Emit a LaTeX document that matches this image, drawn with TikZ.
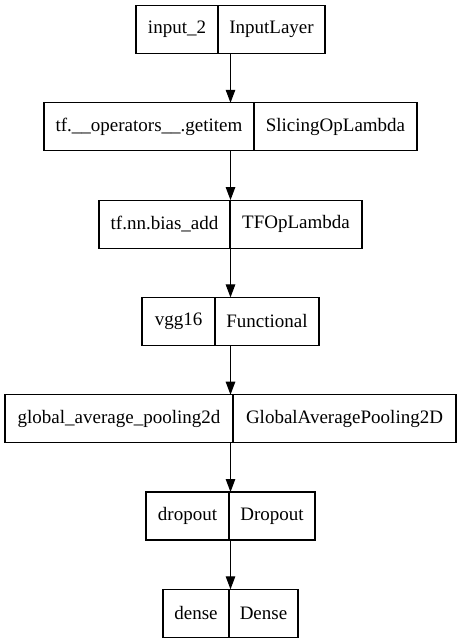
\documentclass[tikz,border=0pt]{standalone}
\usepackage{fontspec}
\setmainfont{Liberation Serif}
\usetikzlibrary{arrows.meta}
\begin{document}
\begin{tikzpicture}[x=1pt,y=-1pt]
\tikzstyle{every node}+=[inner sep=0pt, outer sep=0pt, font=\fontsize{19}{22}\selectfont]
\tikzstyle{field}=[draw=black, line width=1.1pt, minimum height=48pt]
\tikzstyle{edge}=[draw=black, line width=1.1pt, -{Triangle[length=13pt,width=9.5pt]}]
\useasboundingbox (0,0) rectangle (461,644);
\coordinate (mid) at (230.5,0);
\node [field, anchor=east, minimum width=82pt] (input) at (218,29.5) {input\_2};
\node [field, anchor=west, minimum width=107pt] (inputT) at (218,29.5) {InputLayer};
\node [field, anchor=east, minimum width=210pt] (getitem) at (254,126.8) {tf.\_\_operators\_\_.getitem};
\node [field, anchor=west, minimum width=163pt] (getitemT) at (254,126.8) {SlicingOpLambda};
\node [field, anchor=east, minimum width=131pt] (bias) at (230,224.1) {tf.nn.bias\_add};
\node [field, anchor=west, minimum width=132pt] (biasT) at (230,224.1) {TFOpLambda};
\node [field, anchor=east, minimum width=73pt] (vgg) at (215,321.4) {vgg16};
\node [field, anchor=west, minimum width=104pt] (vggT) at (215,321.4) {Functional};
\node [field, anchor=east, minimum width=228pt] (pool) at (233,418.7) {global\_average\_pooling2d};
\node [field, anchor=west, minimum width=223pt] (poolT) at (233,418.7) {GlobalAveragePooling2D};
\node [field, anchor=east, minimum width=83pt] (drop) at (229,516) {dropout};
\node [field, anchor=west, minimum width=86pt] (dropT) at (229,516) {Dropout};
\node [field, anchor=east, minimum width=66pt] (dense) at (229,613.3) {dense};
\node [field, anchor=west, minimum width=69pt] (denseT) at (229,613.3) {Dense};
\draw [edge] (input.south -| mid) -- (getitem.north -| mid);
\draw [edge] (getitem.south -| mid) -- (bias.north -| mid);
\draw [edge] (bias.south -| mid) -- (vgg.north -| mid);
\draw [edge] (vgg.south -| mid) -- (pool.north -| mid);
\draw [edge] (pool.south -| mid) -- (drop.north -| mid);
\draw [edge] (drop.south -| mid) -- (dense.north -| mid);
\end{tikzpicture}
\end{document}
